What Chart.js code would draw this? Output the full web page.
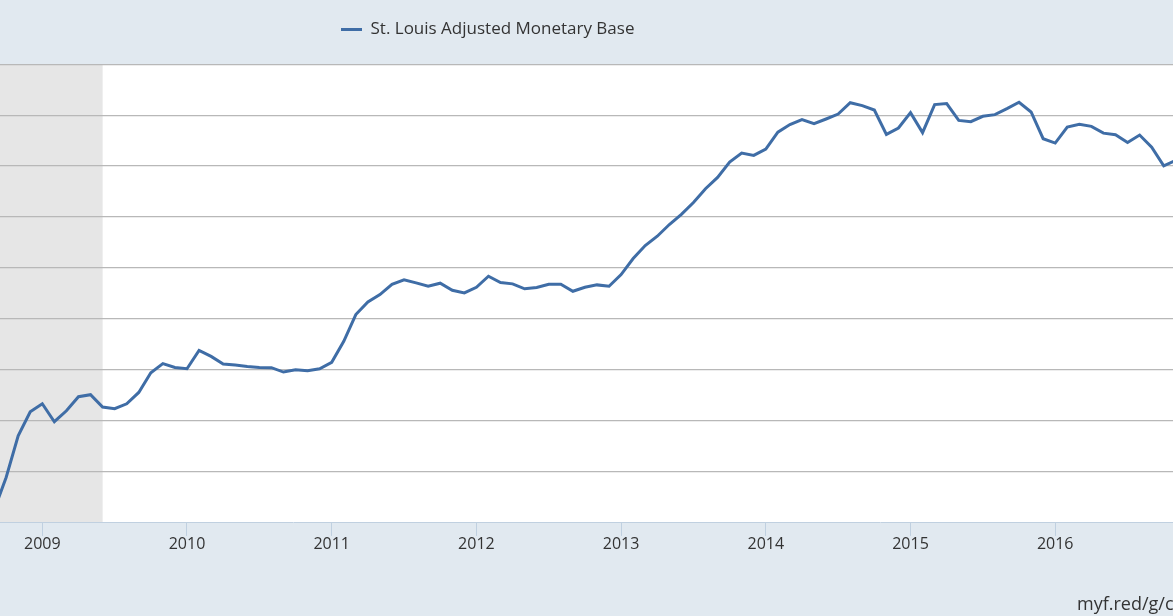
<!DOCTYPE html>
<html>
<head>
<meta charset="utf-8">
<title>St. Louis Adjusted Monetary Base</title>
<script src="https://cdn.jsdelivr.net/npm/chart.js@4/dist/chart.umd.min.js"></script>
<style>
  html, body { margin: 0; padding: 0; background: #e1e9f0; overflow: hidden; }
  canvas { display: block; }
</style>
</head>
<body>
<canvas id="baseChart" width="1173" height="616"></canvas>
<script>
// ===== DATA =====
const seriesName = 'St. Louis Adjusted Monetary Base';
const sourceLink = 'myf.red/g/c';

// monthly values, billions of dollars
const values2008 = [898, 1156, 1484, 1672]; // Sep-Dec
const values2009 = [1735, 1594, 1680, 1790, 1806, 1709, 1696, 1735, 1824, 1979, 2050, 2020];
const values2010 = [2010, 2154, 2107, 2047, 2039, 2028, 2020, 2018, 1984, 2002, 1995, 2010];
const values2011 = [2060, 2225, 2435, 2534, 2592, 2673, 2707, 2684, 2657, 2681, 2626, 2605];
const values2012 = [2649, 2736, 2686, 2676, 2637, 2647, 2673, 2673, 2618, 2649, 2668, 2657];
const values2013 = [2749, 2875, 2977, 3050, 3142, 3221, 3315, 3423, 3511, 3632, 3702, 3684];
const values2014 = [3734, 3867, 3926, 3965, 3933, 3970, 4009, 4098, 4075, 4040, 3849, 3899];
const values2015 = [4020, 3863, 4083, 4091, 3959, 3949, 3991, 4004, 4051, 4101, 4025, 3815];
const values2016 = [3781, 3907, 3928, 3912, 3859, 3847, 3786, 3844, 3749, 3603, 3645]; // Jan-Nov

const baseValues = [].concat(values2008, values2009, values2010, values2011, values2012,
  values2013, values2014, values2015, values2016);

// time of each value as a decimal year, starting Sep 2008
const firstMonth = 2008 + 8 / 12;
const monthTimes = baseValues.map((v, i) => firstMonth + i / 12);

// shaded recession, ends Jun 2009 (starts off the left edge)
const recession = [2007.917, 2009.417];

const xRange = [2008.7077, 2016.814];
const yRange = [800, 4400];
const yStep = 400;

// ===== PLUGINS =====
const lineColor = '#3f6da6';
const textColor = '#333333';
const axisColor = '#c0d0e0';
const chartFont = '"Open Sans", "Noto Sans", sans-serif';

const plotBackground = {
  id: 'plotBackground',
  beforeDraw(chart) {
    const { ctx, chartArea: a, scales: { x } } = chart;
    ctx.save();
    ctx.fillStyle = '#ffffff';
    ctx.fillRect(a.left, a.top, a.width, a.height);
    const x0 = Math.max(x.getPixelForValue(recession[0]), a.left);
    const x1 = x.getPixelForValue(recession[1]);
    ctx.fillStyle = '#e6e6e6';
    ctx.fillRect(x0, a.top, x1 - x0, a.height);
    ctx.restore();
  }
};

// legend sits in a fixed band above the plot, with its key starting at x=341
const legendPlacement = {
  id: 'legendPlacement',
  beforeLayout(chart) {
    const legend = chart.legend;
    if (legend._patched) return;
    const fit = legend.fit;
    legend.fit = function () {
      fit.call(this);
      this.height = 64.2;
    };
    legend._patched = true;
  },
  afterLayout(chart) {
    chart.legend.left = 320;
  }
};

const sourceText = {
  id: 'sourceText',
  afterDraw(chart) {
    const { ctx } = chart;
    ctx.save();
    ctx.font = '18px ' + chartFont;
    ctx.fillStyle = textColor;
    ctx.textAlign = 'left';
    ctx.textBaseline = 'middle';
    ctx.fillText(sourceLink, 1077, 605);
    ctx.restore();
  }
};

// ===== CHART =====
const ctx = document.getElementById('baseChart').getContext('2d');

new Chart(ctx, {
  type: 'line',
  data: {
    datasets: [{
      label: seriesName,
      data: baseValues.map((v, i) => ({ x: monthTimes[i], y: v })),
      borderColor: lineColor,
      backgroundColor: lineColor,
      borderWidth: 3,
      pointRadius: 0,
      tension: 0,
    }]
  },
  options: {
    responsive: false,
    animation: false,
    layout: { padding: 0 },
    plugins: {
      tooltip: { enabled: false },
      legend: {
        position: 'top',
        align: 'start',
        labels: {
          usePointStyle: true,
          pointStyle: 'line',
          pointStyleWidth: 21,
          padding: 21,
          color: textColor,
          font: { family: chartFont, size: 17 },
        }
      }
    },
    scales: {
      x: {
        type: 'linear',
        min: xRange[0],
        max: xRange[1],
        border: { color: axisColor, width: 1 },
        grid: {
          drawOnChartArea: false,
          tickLength: 13,
          tickColor: axisColor,
        },
        ticks: {
          stepSize: 1,
          includeBounds: false,
          maxRotation: 0,
          padding: -1,
          color: textColor,
          font: { family: chartFont, size: 16 },
          callback: v => String(v),
        },
        afterFit(scale) { scale.height = 93.1; },
      },
      y: {
        min: yRange[0],
        max: yRange[1],
        border: { display: false },
        grid: {
          drawTicks: false,
          lineWidth: 1.3,
          color: c => (c.tick.value === yRange[0] ? 'transparent' : '#b8b8b8'),
        },
        ticks: { stepSize: yStep, display: false },
        afterFit(scale) { scale.width = 0; },
      }
    }
  },
  plugins: [plotBackground, legendPlacement, sourceText]
});
</script>
</body>
</html>
